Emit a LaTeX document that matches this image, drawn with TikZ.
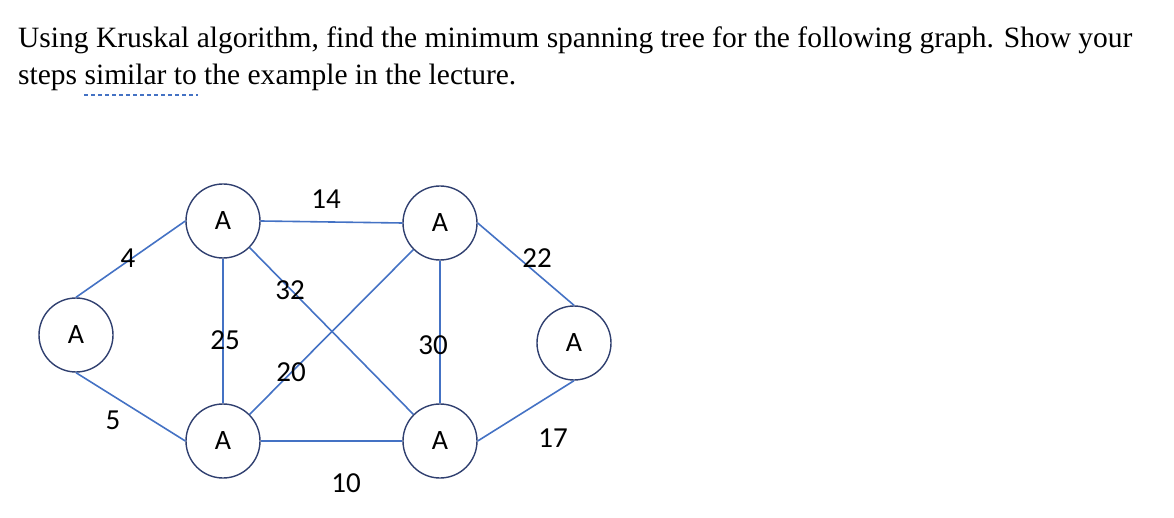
\documentclass[tikz,border=0pt]{standalone}
\usepackage{fontspec}
\setmainfont{Liberation Serif}
\newfontfamily\lab{Carlito}
\definecolor{edge}{HTML}{4472C4}
\definecolor{ring}{HTML}{2F3F6F}
\begin{document}
\begin{tikzpicture}[x=1pt,y=-1pt,
  vtx/.style={circle,draw=ring,line width=1.4pt,minimum size=74pt,inner sep=0pt,font=\lab\fontsize{28}{28}\selectfont},
  ed/.style={draw=edge,line width=1.6pt},
  wt/.style={font=\lab\fontsize{29}{29}\selectfont,inner sep=0pt},
  ttl/.style={anchor=base west,font=\fontsize{29.5}{32}\selectfont,inner sep=0pt}]
\useasboundingbox (0,0) rectangle (1174,518);
\node[ttl] (t1) at (18,48) {Using Kruskal algorithm, find the minimum spanning tree for the following graph. Show your};
\node[ttl] (t2) at (18,85) {steps similar to the example in the lecture.};
\coordinate (u1) at (84,95); \coordinate (u2) at (198,95);
\draw[edge,line width=1.8pt,dash pattern=on 4pt off 3pt] (u1) -- (u2);
\node[vtx] (L) at (76,335) {A};
\node[vtx] (TL) at (223,221) {A};
\node[vtx] (TR) at (440,223) {A};
\node[vtx] (BL) at (223,441) {A};
\node[vtx] (BR) at (440,441) {A};
\node[vtx] (R) at (574,343) {A};
\draw[ed] (L.north) -- (TL.west);
\draw[ed] (L.south) -- (BL.west);
\draw[ed] (TL.east) -- (TR.west);
\draw[ed] (TL.south) -- (BL.north);
\draw[ed] (TL.south east) -- (BR.north west);
\draw[ed] (BL.north east) -- (TR.south west);
\draw[ed] (TR.south) -- (BR.north);
\draw[ed] (BL.east) -- (BR.west);
\draw[ed] (TR.east) -- (R.north);
\draw[ed] (BR.east) -- (R.south);
\node[wt] (w4) at (128,258) {4};
\node[wt] (w5) at (113,420) {5};
\node[wt] (w14) at (326,199) {14};
\node[wt] (w22) at (537,258) {22};
\node[wt] (w32) at (290,290) {32};
\node[wt] (w25) at (225,340) {25};
\node[wt] (w20) at (291,372) {20};
\node[wt] (w30) at (433,345) {30};
\node[wt] (w17) at (553,438) {17};
\node[wt] (w10) at (346,483) {10};
\end{tikzpicture}
\end{document}
